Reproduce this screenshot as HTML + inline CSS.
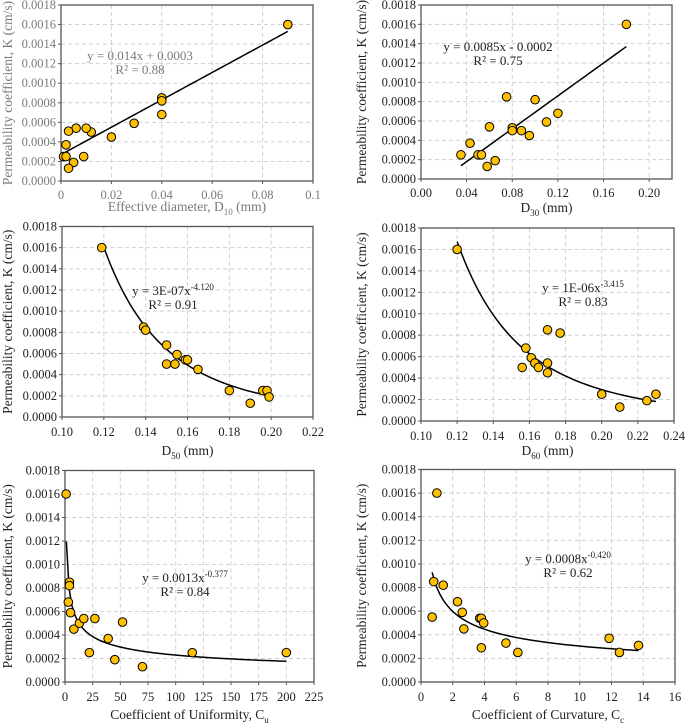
<!DOCTYPE html>
<html><head><meta charset="utf-8"><style>
body{margin:0;background:#fff;}
svg{display:block;}
svg text{font-family:"Liberation Serif","DejaVu Serif",serif;}
</style></head><body>
<svg id="c" width="685" height="725" xmlns="http://www.w3.org/2000/svg" font-family="Liberation Serif, serif"></svg>
<script>
const yTicks=[0,0.0002,0.0004,0.0006,0.0008,0.001,0.0012,0.0014,0.0016,0.0018];
const p1X=[0.09,0.04,0.04,0.04,0.029,0.02,0.012,0.01,0.006,0.003,0.002,0.001,0.002,0.009,0.005,0.003];
const p1Y=[0.0016,0.00085,0.00082,0.00068,0.00059,0.00045,0.0005,0.00054,0.00054,0.00051,0.00037,0.00025,0.00025,0.00025,0.00019,0.00013];
const p2X=[0.18,0.075,0.1,0.12,0.11,0.06,0.08,0.08,0.088,0.095,0.043,0.035,0.05,0.053,0.065,0.058];
const p2Y=[0.0016,0.00085,0.00082,0.00068,0.00059,0.00054,0.00053,0.0005,0.0005,0.00045,0.00037,0.00025,0.00025,0.00025,0.00019,0.00013];
const p3X=[0.119,0.139,0.14,0.15,0.155,0.15,0.154,0.159,0.16,0.165,0.18,0.196,0.198,0.199,0.19];
const p3Y=[0.0016,0.00085,0.00082,0.00068,0.00059,0.0005,0.0005,0.00054,0.00054,0.00045,0.00025,0.00025,0.00025,0.00019,0.00013];
const p4X=[0.12,0.17,0.177,0.158,0.161,0.163,0.17,0.165,0.156,0.17,0.2,0.21,0.225,0.23];
const p4Y=[0.0016,0.00085,0.00082,0.00068,0.00059,0.00054,0.00054,0.0005,0.0005,0.00045,0.00025,0.00013,0.00019,0.00025];
const p5X=[1,4,4,3,5,8,13,17,27,52,39,22,45,70,115,200];
const p5Y=[0.0016,0.00085,0.00082,0.00068,0.00059,0.00045,0.0005,0.00054,0.00054,0.00051,0.00037,0.00025,0.00019,0.00013,0.00025,0.00025];
const p6X=[1,0.8,1.4,0.7,2.3,2.6,2.7,3.7,3.8,3.95,3.8,5.35,6.1,11.85,12.5,13.7];
const p6Y=[0.0016,0.00085,0.00082,0.00055,0.00068,0.00059,0.00045,0.00054,0.00054,0.0005,0.00029,0.00033,0.00025,0.00037,0.00025,0.00031];
const xt1=[0,0.02,0.04,0.06,0.08,0.1], xl1=["0","0.02","0.04","0.06","0.08","0.1"];
const xt2=[0,0.04,0.08,0.12,0.16,0.2], xl2=["0.00","0.04","0.08","0.12","0.16","0.20"];
const xt3=[0.1,0.12,0.14,0.16,0.18,0.2,0.22], xl3=["0.10","0.12","0.14","0.16","0.18","0.20","0.22"];
const xt4=[0.1,0.12,0.14,0.16,0.18,0.2,0.22,0.24], xl4=["0.10","0.12","0.14","0.16","0.18","0.20","0.22","0.24"];
const xt5=[0,25,50,75,100,125,150,175,200,225], xl5=["0","25","50","75","100","125","150","175","200","225"];
const xt6=[0,2,4,6,8,10,12,14,16], xl6=["0","2","4","6","8","10","12","14","16"];

const NS="http://www.w3.org/2000/svg";
const svg=document.getElementById('c');
const FF='Liberation Serif, DejaVu Serif, serif';
function mk(tag,attrs,parent,text){const e=document.createElementNS(NS,tag);for(const k in attrs)e.setAttribute(k,attrs[k]);if(tag==='text')e.setAttribute('font-family',FF);if(text!==undefined)e.textContent=text;(parent||svg).appendChild(e);return e;}

const panels=[
 {id:'d10',L:61,R:313,T:5,B:181,xmin:0,xmax:0.1,xt:xt1,xl:xl1,X:p1X,Y:p1Y,col:'#7a7a7a',
  fit:{type:'lin',a:0.014,b:0.00027,x0:0.001,x1:0.09},eq:['y = 0.014x + 0.0003',null],ex:140,ey:56,
  xtitle:['Effective diameter, D','10',' (mm)'],xty:211,ytx:7},
 {id:'d30',L:421,R:672,T:5,B:179,xmin:0,xmax:0.22,xt:xt2,xl:xl2,X:p2X,Y:p2Y,col:'#222',
  fit:{type:'lin',a:0.0085,b:-0.00016,x0:0.035,x1:0.18},eq:['y = 0.0085x - 0.0002',null],ex:498,ey:47,
  xtitle:['D','30',' (mm)'],xty:212,ytx:361},
 {id:'d50',L:62,R:313,T:226.5,B:417,xmin:0.1,xmax:0.22,xt:xt3,xl:xl3,X:p3X,Y:p3Y,col:'#222',
  fit:{type:'pow',a:2.58e-7,b:-4.12,x0:0.12,x1:0.2},eq:['y = 3E-07x','-4.120'],ex:173,ey:291,
  xtitle:['D','50',' (mm)'],xty:455,ytx:7},
 {id:'d60',L:421,R:674,T:228,B:421,xmin:0.1,xmax:0.24,xt:xt4,xl:xl4,X:p4X,Y:p4Y,col:'#222',
  fit:{type:'pow',a:1.2e-6,b:-3.415,x0:0.12,x1:0.23},eq:['y = 1E-06x','-3.415'],ex:583,ey:288,
  xtitle:['D','60',' (mm)'],xty:455,ytx:361},
 {id:'cu',L:65,R:314,T:470.5,B:682,xmin:0,xmax:225,xt:xt5,xl:xl5,X:p5X,Y:p5Y,col:'#222',
  fit:{type:'pow',a:0.0013,b:-0.377,x0:1.25,x1:200},eq:['y = 0.0013x','-0.377'],ex:185,ey:578,
  xtitle:['Coefficient of Uniformity, C','u',''],xty:719,ytx:7},
 {id:'cc',L:421,R:675,T:469.5,B:682,xmin:0,xmax:16,xt:xt6,xl:xl6,X:p6X,Y:p6Y,col:'#222',
  fit:{type:'pow',a:0.0008,b:-0.42,x0:0.7,x1:13.7},eq:['y = 0.0008x','-0.420'],ex:568,ey:559,
  xtitle:['Coefficient of  Curvature, C','c',''],xty:719,ytx:361}
];
const r2=['R² = 0.88','R² = 0.75','R² = 0.91','R² = 0.83','R² = 0.84','R² = 0.62'];

panels.forEach((p,i)=>{
 const g=mk('g',{});
 
 
 const sx=v=>p.L+(v-p.xmin)/(p.xmax-p.xmin)*(p.R-p.L);
 const sy=v=>p.B-v/0.0018*(p.B-p.T);
 yTicks.forEach(t=>{if(t>0&&t<0.0018){const l=mk('line',{x1:p.L,x2:p.R,y1:sy(t),y2:sy(t),stroke:'#d0d0d0','stroke-dasharray':'4,3'},g);}});
 p.xt.forEach(t=>{if(t>p.xmin&&t<p.xmax){const l=mk('line',{x1:sx(t),x2:sx(t),y1:p.T,y2:p.B,stroke:'#d0d0d0','stroke-dasharray':'4,3'},g);}});
 const fr=mk('rect',{x:p.L,y:p.T,width:p.R-p.L,height:p.B-p.T,fill:'none',stroke:'#555','stroke-width':1.3},g);
 
 yTicks.forEach(t=>{
  mk('line',{x1:p.L-3,x2:p.L,y1:sy(t),y2:sy(t),stroke:'#555'},g);
  const tx=mk('text',{x:p.L-5,y:sy(t)+4,'text-anchor':'end','font-size':12.5,fill:p.col},g,t.toFixed(4));
  
 });
 p.xt.forEach((t,j)=>{
  mk('line',{x1:sx(t),x2:sx(t),y1:p.B,y2:p.B+3,stroke:'#555'},g);
  const tx=mk('text',{x:sx(t),y:p.B+(i>=2?19:18),'text-anchor':'middle','font-size':12.5,fill:p.col},g,p.xl[j]);
  
 });
 const f=p.fit;let d='';
 for(let k=0;k<=80;k++){const x=f.x0+(f.x1-f.x0)*k/80;const y=f.type==='lin'?f.a*x+f.b:f.a*Math.pow(x,f.b);d+=(k?'L':'M')+sx(x).toFixed(2)+','+sy(y).toFixed(2);}
 const tl=mk('path',{d:d,fill:'none',stroke:'#000','stroke-width':1.5},g);
 
 p.X.forEach((x,j)=>{const c=mk('circle',{cx:sx(x),cy:sy(p.Y[j]),r:4.3,fill:'#FFC000',stroke:'#000','stroke-width':1},g);
  });
 const eq=mk('text',{x:p.ex,y:p.ey+4,'text-anchor':'middle','font-size':13,fill:p.col},g);
 
 mk('tspan',{},eq,p.eq[0]);
 if(p.eq[1]) mk('tspan',{dy:-5,'font-size':9},eq,p.eq[1]);
 const rr=mk('text',{x:p.ex,y:p.ey+18,'text-anchor':'middle','font-size':13,fill:p.col},g,r2[i]);
 
 const xt=mk('text',{x:(p.L+p.R)/2,y:p.xty,'text-anchor':'middle','font-size':13.5,fill:p.col},g);
 
 mk('tspan',{},xt,p.xtitle[0]);mk('tspan',{dy:4,'font-size':9},xt,p.xtitle[1]);
 if(p.xtitle[2]) mk('tspan',{dy:-4},xt,p.xtitle[2]);
 const yt=mk('text',{x:0,y:0,'text-anchor':'middle','font-size':13.5,fill:p.col,transform:'translate('+(p.ytx+5)+','+((p.T+p.B)/2)+') rotate(-90)'},g,'Permeability coefficient, K (cm/s)');
 
});
</script>
</body></html>
